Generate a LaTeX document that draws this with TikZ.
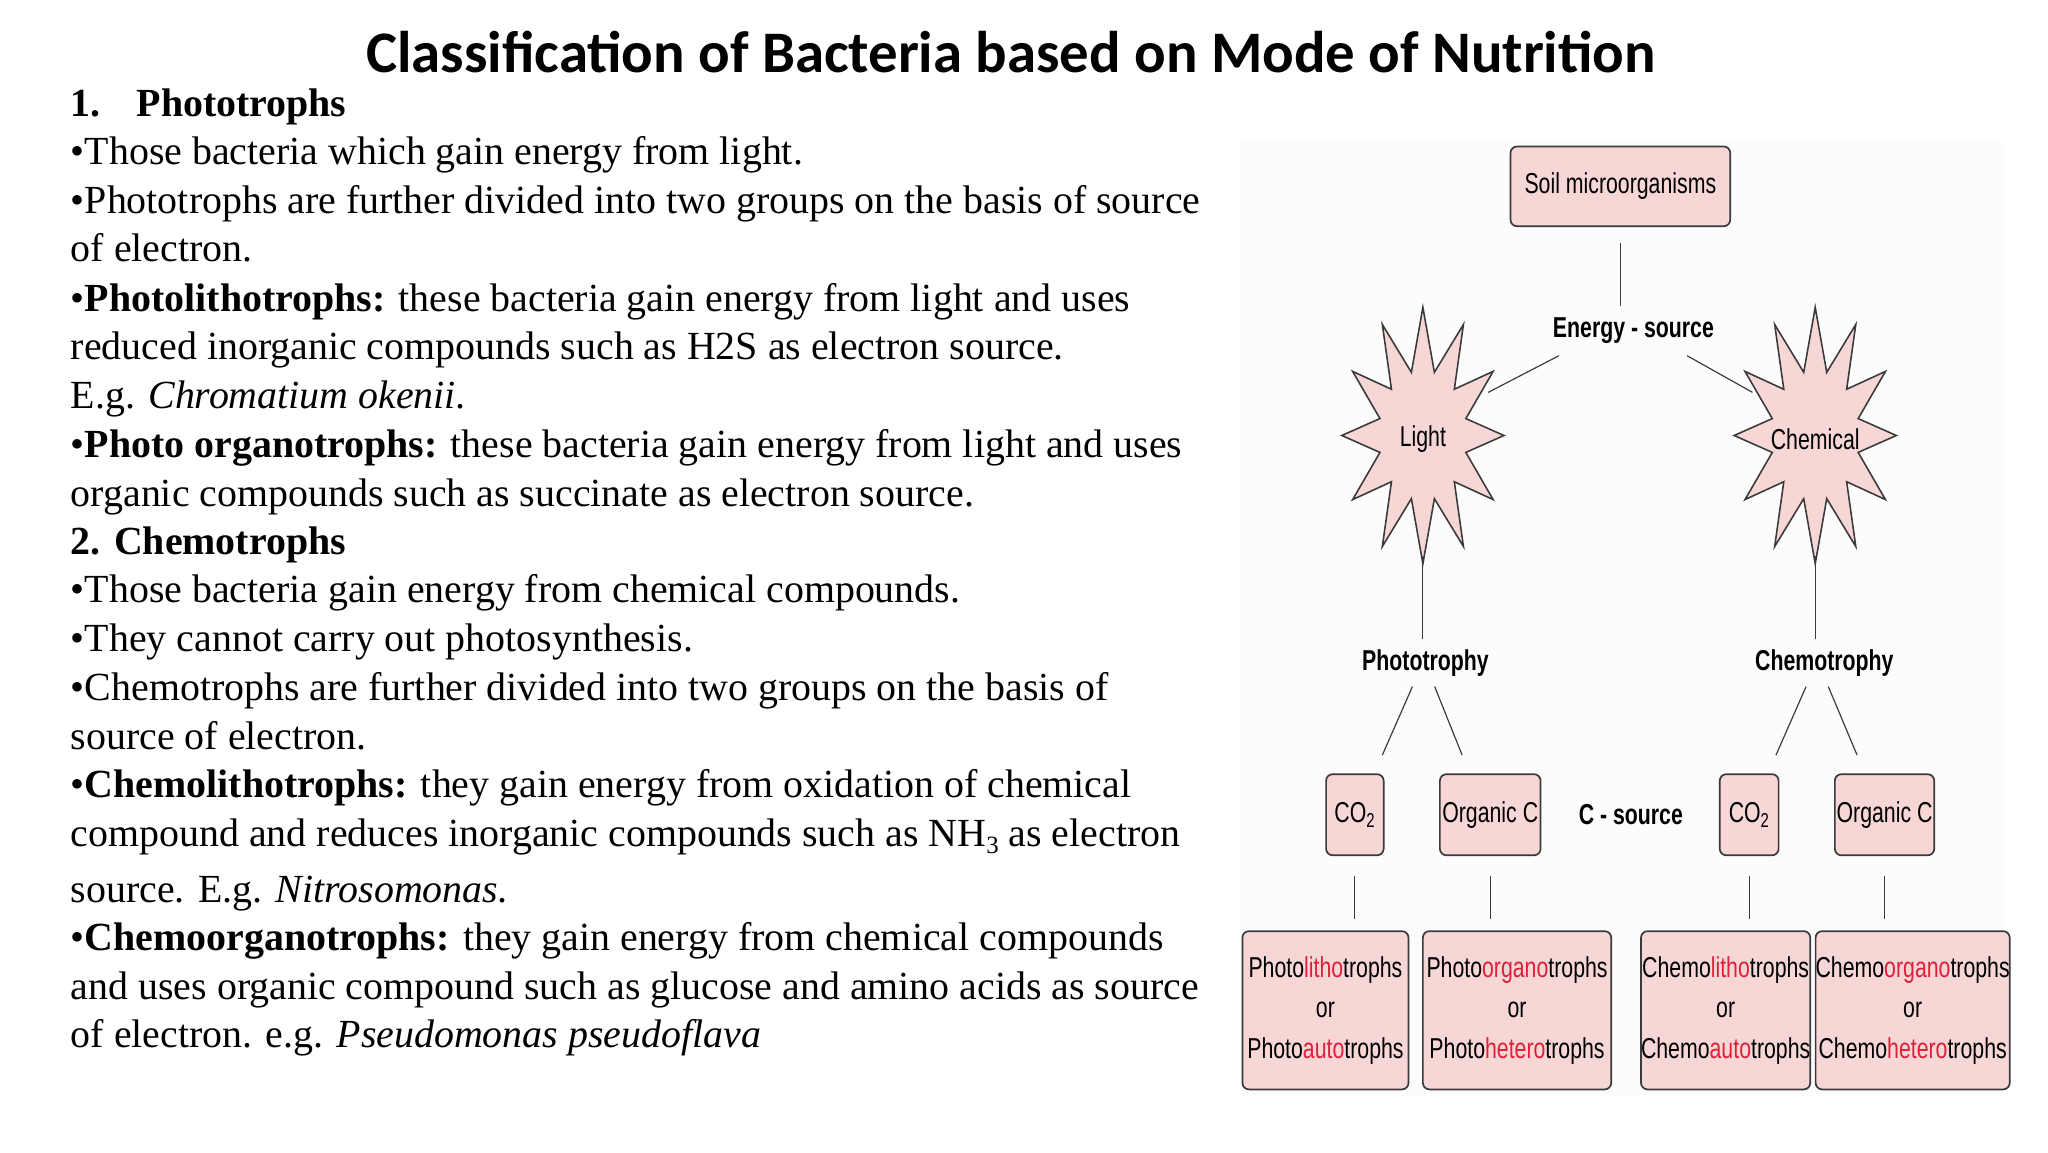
\documentclass[tikz,border=0pt]{standalone}
\usepackage{fontspec}
\setmainfont{Liberation Serif}
\newfontfamily\titlefont{Carlito}
\newfontfamily\diag[FakeStretch=0.74]{Liberation Sans}
\definecolor{boxpink}{HTML}{F7D6D6}
\definecolor{redtxt}{HTML}{E0203A}
\definecolor{edge}{HTML}{3A3A3A}
\begin{document}
\begin{tikzpicture}[x=1pt,y=-1pt,
  body/.style={anchor=base west,inner sep=0pt,font=\fontsize{30.5}{33}\selectfont},
  pbox/.style={draw=edge,line width=1.3pt,fill=boxpink,rounded corners=5pt,inner sep=0pt,font=\diag\fontsize{22}{31}\selectfont,align=center},
  lbl/.style={font=\diag\bfseries\fontsize{22}{24}\selectfont,inner sep=0pt},
  conn/.style={draw=edge,line width=0.9pt},
  starfill/.style={draw=edge,line width=1.2pt,fill=boxpink}]
\useasboundingbox (0,0) rectangle (1566,881);
\fill[white] (0,0) rectangle (1566,881);
\fill[black!1] (948,108) rectangle (1532,838);
\node[inner sep=0pt,font=\titlefont\bfseries\fontsize{45}{48}\selectfont] (title) at (773,40) {Classification of Bacteria based on Mode of Nutrition};
% text
\node[body] (t1) at (54,89) {\textbf{1.\hspace{0.9em}Phototrophs}};
\node[body] (t2) at (54,126) {•Those bacteria which gain energy from light.};
\node[body] (t3) at (54,163) {•Phototrophs are further divided into two groups on the basis of source};
\node[body] (t4) at (54,200) {of electron.};
\node[body] (t5) at (54,238) {•\textbf{Photolithotrophs:} these bacteria gain energy from light and uses};
\node[body] (t6) at (54,275) {reduced inorganic compounds such as H2S as electron source.};
\node[body] (t7) at (54,312) {E.g. \textit{Chromatium okenii.}};
\node[body] (t8) at (54,350) {•\textbf{Photo organotrophs:} these bacteria gain energy from light and uses};
\node[body] (t9) at (54,387) {organic compounds such as succinate as electron source.};
\node[body] (t10) at (54,424) {\textbf{2. Chemotrophs}};
\node[body] (t11) at (54,461) {•Those bacteria gain energy from chemical compounds.};
\node[body] (t12) at (54,498) {•They cannot carry out photosynthesis.};
\node[body] (t13) at (54,536) {•Chemotrophs are further divided into two groups on the basis of};
\node[body] (t14) at (54,573) {source of electron.};
\node[body] (t15) at (54,610) {•\textbf{Chemolithotrophs:} they gain energy from oxidation of chemical};
\node[body] (t16) at (54,647) {compound and reduces inorganic compounds such as NH\raisebox{-6pt}{\fontsize{19}{19}\selectfont 3} as electron};
\node[body] (t17) at (54,690) {source. E.g. \textit{Nitrosomonas.}};
\node[body] (t18) at (54,727) {•\textbf{Chemoorganotrophs:} they gain energy from chemical compounds};
\node[body] (t19) at (54,764) {and uses organic compound such as glucose and amino acids as source};
\node[body] (t20) at (54,801) {of electron. e.g. \textit{Pseudomonas pseudoflava}};
% stars
\foreach \cx in {1088,1388}{
  \draw[starfill] plot[samples=24,domain=0:23,variable=\k]
    ({\cx+ifthenelse(mod(\k,2)==0,62,34)*cos(90+15*\k)},{333+ifthenelse(mod(\k,2)==0,98,50)*sin(90+15*\k)}) -- cycle;
}
% diagram nodes
\node[pbox,minimum width=168pt,minimum height=61pt] (soil) at (1239,142.5) {Soil microorganisms};
\node[lbl] (energy) at (1249,253) {Energy - source};
\node[font=\diag\fontsize{22}{24}\selectfont,inner sep=0pt] (light) at (1088,336) {Light};
\node[font=\diag\fontsize{22}{24}\selectfont,inner sep=0pt] (chem) at (1388,336) {Chemical};
\node[lbl] (photo) at (1090,507) {Phototrophy};
\node[lbl] (chemo) at (1395,507) {Chemotrophy};
\node[pbox,minimum width=44pt,minimum height=62pt] (co2a) at (1036,623) {CO\textsubscript{2}};
\node[pbox,minimum width=77pt,minimum height=62pt] (orga) at (1139.5,623) {Organic C};
\node[lbl] (csrc) at (1247,623) {C - source};
\node[pbox,minimum width=45pt,minimum height=62pt] (co2b) at (1337.5,623) {CO\textsubscript{2}};
\node[pbox,minimum width=76pt,minimum height=62pt] (orgb) at (1441,623) {Organic C};
\node[pbox,minimum width=127pt,minimum height=121pt] (b1) at (1013.5,772.5) {Photo\textcolor{redtxt}{litho}trophs\\or\\Photo\textcolor{redtxt}{auto}trophs};
\node[pbox,minimum width=144pt,minimum height=121pt] (b2) at (1160,772.5) {Photo\textcolor{redtxt}{organo}trophs\\or\\Photo\textcolor{redtxt}{hetero}trophs};
\node[pbox,minimum width=127pt,minimum height=121pt] (b3) at (1319.5,772.5) {Chemo\textcolor{redtxt}{litho}trophs\\or\\Chemo\textcolor{redtxt}{auto}trophs};
\node[pbox,minimum width=139pt,minimum height=121pt] (b4) at (1462.5,772.5) {Chemo\textcolor{redtxt}{organo}trophs\\or\\Chemo\textcolor{redtxt}{hetero}trophs};
% connectors
\coordinate (e1) at (1192,272); \coordinate (e2) at (1138,300);
\coordinate (e3) at (1290,272); \coordinate (e4) at (1340,300);
\draw[conn,shorten <=12pt,shorten >=9pt] (soil.south) -- (soil.south|-energy.north);
\draw[conn] (e1) -- (e2);
\draw[conn] (e3) -- (e4);
\coordinate (l1) at (1088,425); \coordinate (l2) at (1388,425);
\draw[conn] (l1) -- ([yshift=8pt]l1|-photo.north);
\draw[conn] (l2) -- ([yshift=8pt]l2|-chemo.north);
\coordinate (p1) at (1080,525); \coordinate (p2) at (1097,525);
\coordinate (c1) at (1381,525); \coordinate (c2) at (1398,525);
\draw[conn] (p1) -- ([yshift=14pt]co2a.north-|1057,0);
\draw[conn] (p2) -- ([yshift=14pt]orga.north-|1118,0);
\draw[conn] (c1) -- ([yshift=14pt]co2b.north-|1358,0);
\draw[conn] (c2) -- ([yshift=14pt]orgb.north-|1420,0);
\draw[conn,shorten <=15pt,shorten >=9pt] (co2a.south) -- (co2a.south|-b1.north);
\draw[conn,shorten <=15pt,shorten >=9pt] (orga.south) -- (orga.south|-b2.north);
\draw[conn,shorten <=15pt,shorten >=9pt] (co2b.south) -- (co2b.south|-b3.north);
\draw[conn,shorten <=15pt,shorten >=9pt] (orgb.south) -- (orgb.south|-b4.north);
\end{tikzpicture}
\end{document}
